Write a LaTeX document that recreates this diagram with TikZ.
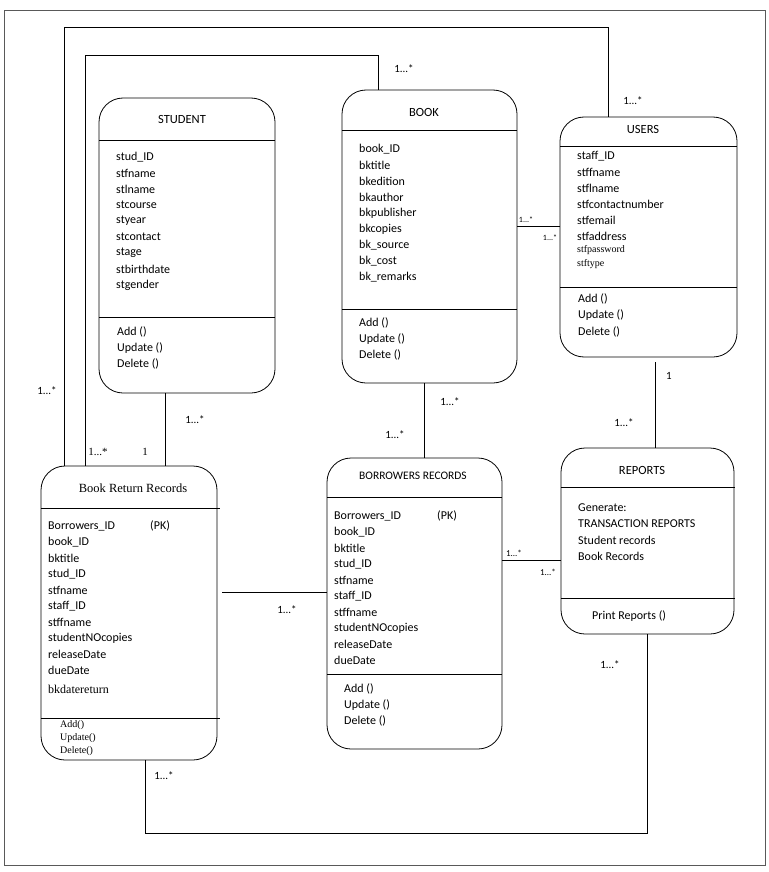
\documentclass[tikz,border=0pt]{standalone}
\usepackage{fontspec}
\setmainfont{Carlito}
\newfontfamily\tms{Liberation Serif}
\begin{document}
\begin{tikzpicture}[x=1pt,y=-1pt,
  box/.style={draw,thick,rounded corners=24pt,inner sep=0pt},
  t/.style={anchor=west,inner sep=0pt,font=\fontsize{12}{12}\selectfont},
  h/.style={inner sep=0pt,font=\fontsize{12.5}{12}\selectfont},
  s/.style={anchor=west,inner sep=0pt,font=\tms\fontsize{10}{10}\selectfont},
  lb/.style={inner sep=0pt,font=\fontsize{11}{11}\selectfont},
  ln/.style={thick}]
\useasboundingbox (0,0) rectangle (768,872);
\draw[thick,gray!70!black] (4,10) rectangle (765,865);
% boxes
\node[box,minimum width=176pt,minimum height=295pt] (stu) at (187,245.5) {};
\node[box,minimum width=175pt,minimum height=293pt] (book) at (429.5,236.5) {};
\node[box,minimum width=177pt,minimum height=240pt] (usr) at (648.5,237) {};
\node[box,minimum width=176pt,minimum height=294pt] (brr) at (129,613) {};
\node[box,minimum width=175pt,minimum height=291pt] (bor) at (414.5,603.5) {};
\node[box,minimum width=173pt,minimum height=186pt] (rep) at (647.5,541) {};
% separators
\draw[ln] (99,140)--(275,140) (99,317)--(275,317);
\draw[ln] (342,130)--(517,130) (342,309)--(517,309);
\draw[ln] (560,146)--(737,146) (560,287)--(737,287);
\draw[ln] (41,508)--(220,508) (41,718)--(220,718);
\draw[ln] (327,497)--(502,497) (327,674)--(502,674);
\draw[ln] (561,487)--(735,487) (561,598)--(735,598);
% headers
\node[h] (hs) at (182,119) {STUDENT};
\node[h] (hb) at (424,112) {BOOK};
\node[h] (hu) at (643,129) {USERS};
\node[h,font=\tms\fontsize{12.5}{12}\selectfont] (hr) at (133,488) {Book Return Records};
\node[h,font=\fontsize{11.5}{12}\selectfont] (ho) at (413,476) {BORROWERS RECORDS};
\node[h] (hp) at (642,470) {REPORTS};
% student
\foreach \txt [count=\i] in {stud\_ID,stfname,stlname,stcourse,styear,stcontact,stage,stbirthdate,stgender}
  \node[t] (sa\i) at (116,141+16*\i) {\txt};
\foreach \txt [count=\i] in {Add (),Update (),Delete ()}
  \node[t] (sm\i) at (117,316+16*\i) {\txt};
% book
\foreach \txt [count=\i] in {book\_ID,bktitle,bkedition,bkauthor,bkpublisher,bkcopies,bk\_source,bk\_cost,bk\_remarks}
  \node[t] (ba\i) at (359,133+16*\i) {\txt};
\foreach \txt [count=\i] in {Add (),Update (),Delete ()}
  \node[t] (bm\i) at (359,307+16*\i) {\txt};
% users
\foreach \txt [count=\i] in {staff\_ID,stffname,stflname,stfcontactnumber,stfemail,stfaddress}
  \node[t] (ua\i) at (577,140+16*\i) {\txt};
\node[s] (ua7) at (577,250) {stfpassword};
\node[s] (ua8) at (577,264) {stftype};
\foreach \txt [count=\i] in {Add (),Update (),Delete ()}
  \node[t] (um\i) at (578,282+16.5*\i) {\txt};
% book return records
\node[t] (rpk) at (150,526) {(PK)};
\foreach \txt [count=\i] in {Borrowers\_ID,book\_ID,bktitle,stud\_ID,stfname,staff\_ID,stffname,studentNOcopies,releaseDate,dueDate}
  \node[t] (ra\i) at (48,510+16*\i) {\txt};
\node[s,font=\tms\fontsize{12}{12}\selectfont] (ra11) at (48,689) {bkdatereturn};
\foreach \txt [count=\i] in {Add(),Update(),Delete()}
  \node[s] (rm\i) at (60,712+13*\i) {\txt};
% borrowers
\node[t] (opk) at (437,516) {(PK)};
\foreach \txt [count=\i] in {Borrowers\_ID,book\_ID,bktitle,stud\_ID,stfname,staff\_ID,stffname,studentNOcopies,releaseDate,dueDate}
  \node[t] (oa\i) at (334,500+16*\i) {\txt};
\foreach \txt [count=\i] in {Add (),Update (),Delete ()}
  \node[t] (om\i) at (344,673+16*\i) {\txt};
% reports
\foreach \txt [count=\i] in {Generate:,TRANSACTION REPORTS,Student records,Book Records}
  \node[t] (pa\i) at (578,492+16*\i) {\txt};
\node[t] (pm1) at (592,616) {Print Reports ()};
% connector coordinates
\coordinate (c1) at (64,27); \coordinate (c2) at (608,27);
\coordinate (d1) at (85,55); \coordinate (d2) at (378,55);
\coordinate (e1) at (145,833); \coordinate (e2) at (647,833);
% connectors
\draw[ln] (brr.north -| 64,0) -- (c1) -- (c2) -- (usr.north -| c2);
\draw[ln] (brr.north -| 85,0) -- (d1) -- (d2) -- (book.north -| d2);
\draw[ln] (stu.south -| 165,0) -- (brr.north -| 165,0);
\draw[ln] (book.east |- 0,226) -- (usr.west |- 0,226);
\draw[ln] (book.south -| 424,0) -- (bor.north -| 424,0);
\draw[ln] (655,362) -- (rep.north -| 655,0);
\draw[ln] (bor.east |- 0,560) -- (rep.west |- 0,560);
\draw[ln] (222,592) -- (bor.west |- 0,592);
\draw[ln] (brr.south -| e1) -- (e1) -- (e2) -- (rep.south -| e2);
% labels
\node[lb] (l1) at (404,69) {1...*};
\node[lb] (l2) at (633,101) {1...*};
\node[lb] (l3) at (47,391) {1...*};
\node[lb,font=\tms\fontsize{11}{11}\selectfont] (l4) at (98,452) {1...*};
\node[lb,font=\tms\fontsize{11}{11}\selectfont] (l5) at (145,452) {1};
\node[lb] (l6) at (195,420) {1...*};
\node[lb,font=\fontsize{8}{8}\selectfont] (l7) at (526,220) {1...*};
\node[lb,font=\fontsize{8}{8}\selectfont] (l8) at (550,238) {1...*};
\node[lb] (l9) at (450,402) {1...*};
\node[lb] (l10) at (395,435) {1...*};
\node[lb] (l11) at (669,376) {1};
\node[lb] (l12) at (624,423) {1...*};
\node[lb,font=\fontsize{9}{9}\selectfont] (l13) at (514,553) {1...*};
\node[lb,font=\fontsize{9}{9}\selectfont] (l14) at (548,572) {1...*};
\node[lb] (l15) at (287,610) {1...*};
\node[lb] (l16) at (164,776) {1...*};
\node[lb] (l17) at (610,665) {1...*};
\end{tikzpicture}
\end{document}
